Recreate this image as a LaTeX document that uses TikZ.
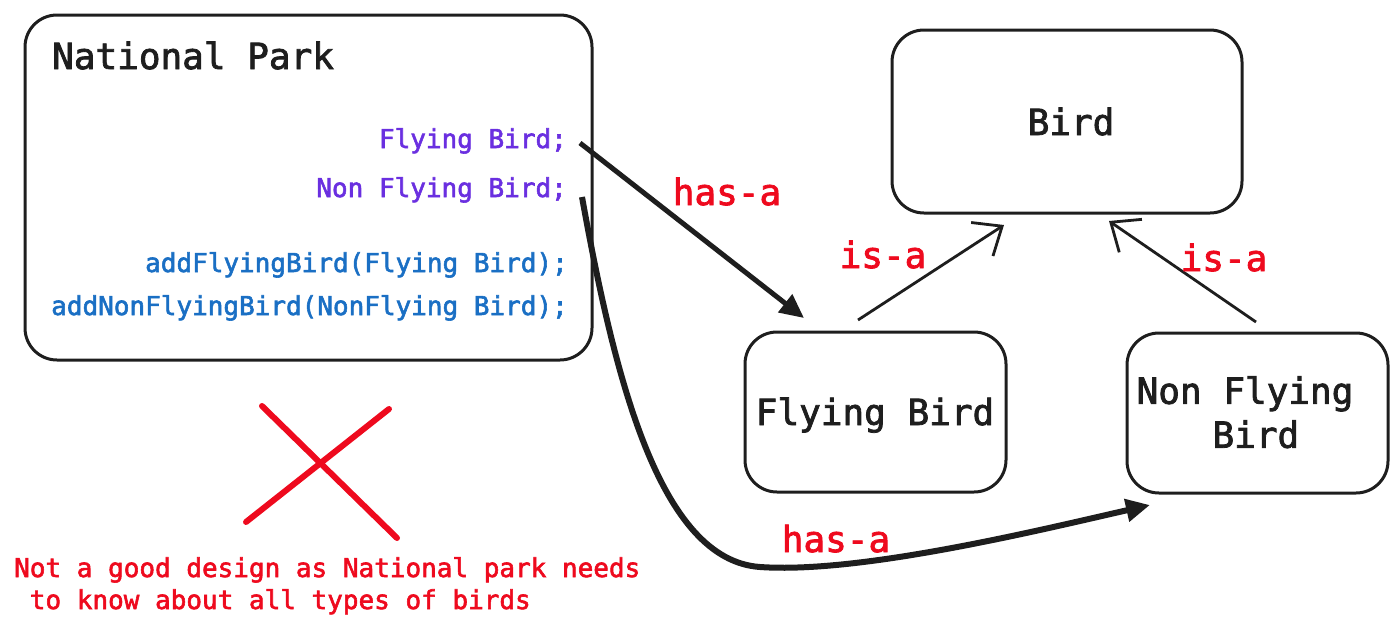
\documentclass[tikz,border=0pt]{standalone}
\usepackage{fontspec}
\newfontfamily\mono[FakeBold=2.2]{DejaVu Sans Mono}
\usetikzlibrary{arrows.meta}
\definecolor{ink}{HTML}{1E1E1E}
\definecolor{violetc}{HTML}{6A2FE0}
\definecolor{bluec}{HTML}{1A6FC4}
\definecolor{redc}{HTML}{EE0A1E}
\tikzset{
  box/.style={draw=ink, line width=3pt, rounded corners=32pt, inner sep=0pt},
  big/.style={font=\mono\fontsize{36}{44}\selectfont, text=ink, inner sep=0pt},
  code/.style={font=\mono\fontsize{26}{32}\selectfont, inner sep=0pt},
  lab/.style={font=\mono\fontsize{36}{44}\selectfont, text=redc, inner sep=0pt},
  hasa/.style={draw=ink, line width=5pt, -{Triangle[length=24pt,width=22pt]}},
  isa/.style={draw=ink, line width=2.8pt, -{Straight Barb[length=24pt,width=40pt,line width=2.8pt]}},
  cross/.style={draw=redc, line width=6pt, line cap=round},
}
\begin{document}
\begin{tikzpicture}[x=1pt,y=-1pt]
\useasboundingbox (0,0) rectangle (1400,627);
% boxes
\node[box, minimum width=567pt, minimum height=345pt] (park) at (308.5,187.5) {};
\node[box, minimum width=350pt, minimum height=183pt] (bird) at (1067,121.5) {};
\node[box, minimum width=261pt, minimum height=160pt] (fly) at (875.5,412) {};
\node[box, minimum width=261pt, minimum height=160pt] (nonfly) at (1257.5,413) {};
% texts in boxes
\node[big, anchor=base west] (title) at (52,69) {National Park};
\node[code, text=violetc, anchor=base east] (fb) at (567,148) {Flying Bird;};
\node[code, text=violetc, anchor=base east] (nfb) at (567,197) {Non Flying Bird;};
\node[code, text=bluec, anchor=base east] (addf) at (568,272) {addFlyingBird(Flying Bird);};
\node[code, text=bluec, anchor=base east] (addn) at (568,315) {addNonFlyingBird(NonFlying Bird);};
\node[big, anchor=base] (birdt) at (1071,135) {Bird};
\node[big, anchor=base] (flyt) at (875,425) {Flying Bird};
\node[big, align=center, anchor=north] (nonflyt) at (1245,376) {Non Flying\\\phantom{x}Bird};
% connector endpoints
\coordinate (a1s) at (580,143);
\coordinate (a1e) at (804,318);
\coordinate (a2s) at (582,197);
\coordinate (a2m) at (760,567);
\coordinate (a2e) at (1150,505);
\coordinate (i1s) at (858,320);
\coordinate (i1e) at (1004,225);
\coordinate (i2s) at (1256,322);
\coordinate (i2e) at (1109,221);
% connectors
\draw[hasa] (a1s) -- (a1e);
\draw[hasa, line width=6pt] (a2s) .. controls (615,380) and (660,560) .. (a2m)
   .. controls (860,574) and (1040,530) .. (a2e);
\draw[isa] (i1s) -- (i1e);
\draw[isa] (i2s) -- (i2e);
% labels
\node[lab, anchor=base] (h1) at (727,205) {has-a};
\node[lab, anchor=base] (h2) at (836,552) {has-a};
\node[lab, anchor=base] (is1) at (883,268) {is-a};
\node[lab, anchor=base] (is2) at (1224,271) {is-a};
% red cross
\coordinate (c1) at (262,406);
\coordinate (c2) at (397,538);
\coordinate (c3) at (389,409);
\coordinate (c4) at (246,522);
\draw[cross] (c1) -- (c2);
\draw[cross] (c3) -- (c4);
\node[code, text=redc, anchor=base west, align=left] (note) at (14,609)
  {Not a good design as National park needs\\\phantom{N}to know about all types of birds};
\end{tikzpicture}
\end{document}
